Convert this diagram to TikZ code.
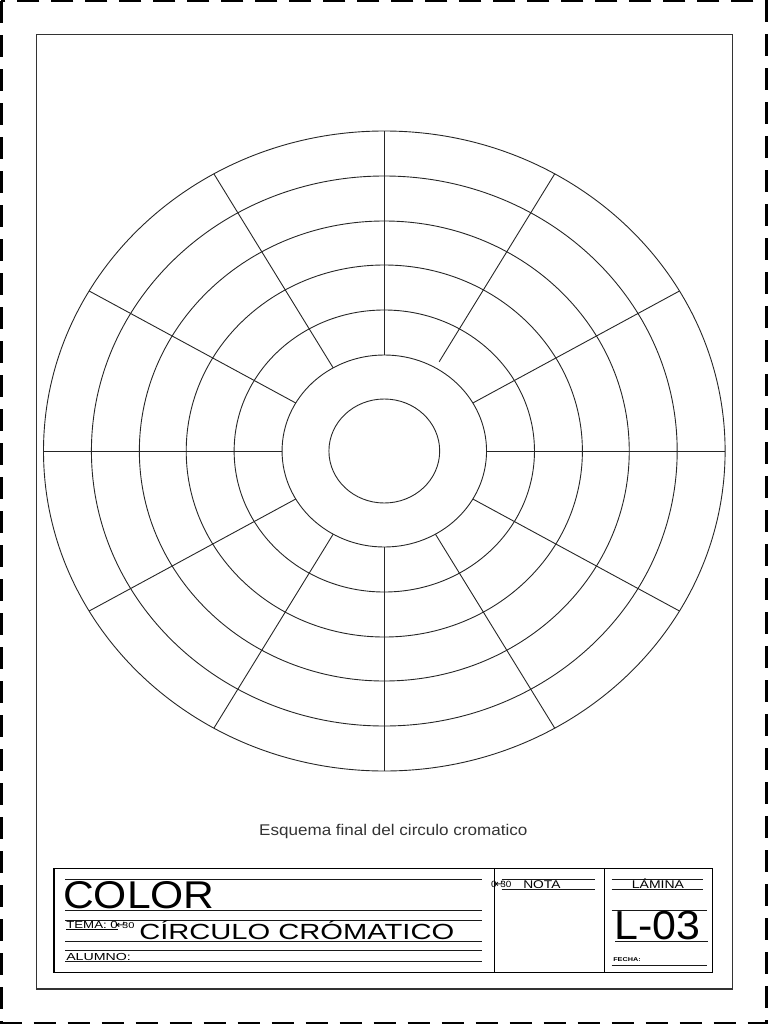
\documentclass[tikz,border=0pt]{standalone}
\usepackage{fontspec}
\setmainfont{Liberation Sans}
\newfontfamily\symfont{DejaVu Sans}
\begin{document}
\begin{tikzpicture}[x=1pt,y=-1pt,
  ring/.style={line width=0.9pt, color=black!85},
  rule/.style={line width=0.9pt, color=black!90},
  lbl/.style={inner sep=0pt, anchor=base west}]
\useasboundingbox (0,0) rectangle (768,1024);
\coordinate (tl) at (36.7,34.3);
\coordinate (br) at (732.3,989);
\coordinate (c) at (384.3,451);
\coordinate (btl) at (54,868.5);
\coordinate (bbr) at (712.7,972.5);
 \draw[-, dash pattern=on 22pt off 12pt, line width=2.5pt] (1.3,1.2) rectangle (766.7,1022.8);
 \draw[-, line width=1.3pt, color=black!80] (tl) rectangle (br);
 % circulo cromatico
 \begin{scope}[shift={(c)}, xscale=1.065]
 \foreach \r in {52,96,141,186,230,275,320}
   \draw[ring] (0,0) circle (\r);
 \foreach \a in {0,30,...,330}{
   \pgfmathsetmacro\rs{\a==300 ? 103 : 96}
   \draw[ring] (\a:\rs) -- (\a:320);
 }
 \end{scope}
 \node[lbl, font=\fontsize{15.5}{17}\selectfont, xscale=1.1, color=black!80] (caption) at (259,835.7) {Esquema final del circulo cromatico};
 % cajetin
 \draw[-, line width=1.3pt] (btl) rectangle (bbr);
 \draw[-, line width=1pt] (494,868.5) -- (494,972.5);
 \draw[-, line width=1pt] (604,868.5) -- (604,972.5);
 \foreach \y in {879,910,920.7,941.7,950.7,961.7}
   \draw[rule] (65,\y) -- (482,\y);
 \draw[rule] (501.7,879) -- (595,879);
 \draw[rule] (501.7,889.3) -- (595,889.3);
 \draw[rule] (611.7,879) -- (703.3,879);
 \draw[rule] (611.7,889.3) -- (703.3,889.3);
 \draw[rule] (611.7,910) -- (706.7,910);
 \draw[rule] (615,941.7) -- (707.7,941.7);
 \draw[rule] (611.7,965) -- (707,965);
 \node[lbl, font=\fontsize{38.7}{40}\selectfont, xscale=1.1] (color) at (63,908.3) {COLOR};
 \node[lbl, font=\fontsize{10.2}{11}\selectfont, xscale=1.3] (tema) at (66,928) {\underline{TEMA:\ 0}\hspace{-1.5pt}{\symfont\fontsize{10}{11}\selectfont\char"21B5}\hspace{-3.5pt}{\fontsize{8.5}{9}\selectfont 30}};
 \node[lbl, font=\fontsize{21.9}{23}\selectfont, xscale=1.33] (tema name) at (139,939) {CÍRCULO CRÓMATICO};
 \node[lbl, font=\fontsize{10.2}{11}\selectfont, xscale=1.39] (alumno) at (66,960) {ALUMNO:};
 \node[lbl, font=\fontsize{9}{10}\selectfont, xscale=1.1] (nota num) at (491,887.5) {0\hspace{-1.5pt}{\symfont\fontsize{10}{11}\selectfont\char"21B5}\hspace{-3.5pt}30};
 \node[lbl, font=\fontsize{11.2}{12}\selectfont, xscale=1.23] (nota) at (523,888.3) {NOTA};
 \node[lbl, font=\fontsize{11.2}{12}\selectfont, xscale=1.25] (lamina) at (631.7,888.3) {LÁMINA};
 \node[lbl, font=\fontsize{40.5}{42}\selectfont, xscale=1.06] (lamina num) at (614,939) {L-03};
 \node[lbl, font=\bfseries\fontsize{5.6}{6}\selectfont, xscale=1.3] (fecha) at (613,961.5) {FECHA:};
\end{tikzpicture}
\end{document}
